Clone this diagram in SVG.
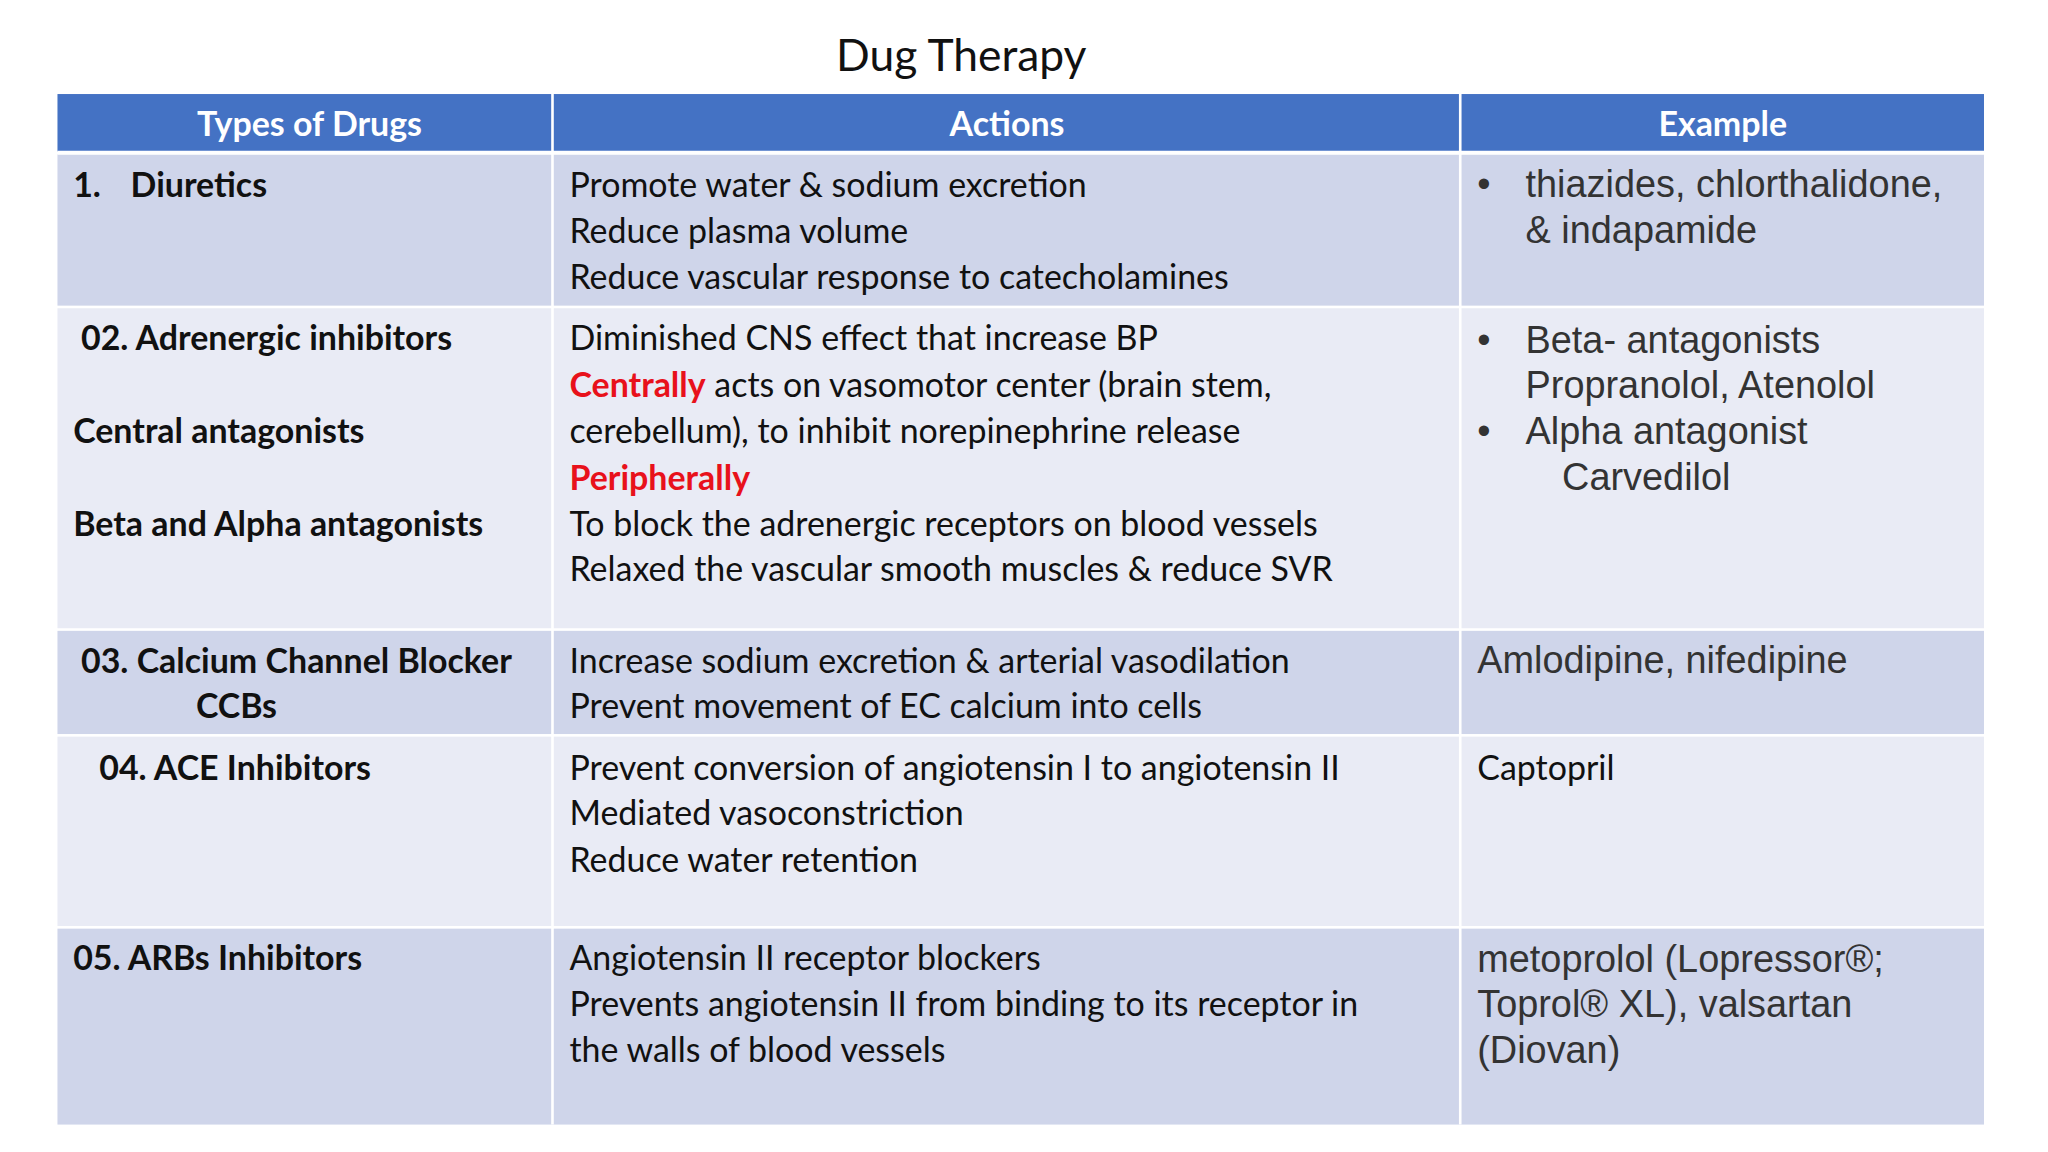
<svg xmlns="http://www.w3.org/2000/svg" width="2048" height="1152" viewBox="0 0 2048 1152">
<style>
.t{font-family:Lato,"Open Sans",sans-serif;font-size:26px;fill:#111}
.b{font-weight:bold}
.h{font-family:Lato,sans-serif;font-size:26px;font-weight:bold;fill:#fff}
.a{font-family:"Liberation Sans",Arial,sans-serif;font-size:29px;fill:#333}
.r{fill:#e8111b;font-weight:bold}
.o{fill:#cfd5ea}.e{fill:#e9ebf5}
</style>
<rect width="2048" height="1152" fill="#fff"/>
<g transform="scale(1.30612)">
<text x="736" y="54" text-anchor="middle" font-family="Lato,sans-serif" font-size="34" fill="#111">Dug Therapy</text>
<g id="header">
<rect x="44" y="72" width="1475" height="44" fill="#4472c4"/>
<text class="h" x="237" y="104" text-anchor="middle">Types of Drugs</text>
<text class="h" x="771" y="104" text-anchor="middle">Actions</text>
<text class="h" x="1319" y="104" text-anchor="middle">Example</text>
</g>
<g id="row1">
<rect class="o" x="44" y="118" width="1475" height="116"/>
<text class="t b" x="56" y="151">1.<tspan x="100">Diuretics</tspan></text>
<text class="t" x="436" y="151">Promote water &amp; sodium excretion</text>
<text class="t" x="436" y="186">Reduce plasma volume</text>
<text class="t" x="436" y="221">Reduce vascular response to catecholamines</text>
<text class="a" x="1131" y="151">•<tspan x="1168">thiazides, chlorthalidone,</tspan></text>
<text class="a" x="1168" y="186">&amp; indapamide</text>
</g>
<g id="row2">
<rect class="e" x="44" y="236" width="1475" height="245"/>
<text class="t b" x="62" y="268">02. Adrenergic inhibitors</text>
<text class="t b" x="56" y="339">Central antagonists</text>
<text class="t b" x="56" y="410">Beta and Alpha antagonists</text>
<text class="t" x="436" y="268">Diminished CNS effect that increase BP</text>
<text class="t" x="436" y="304"><tspan class="r">Centrally</tspan>  acts on vasomotor center (brain stem,</text>
<text class="t" x="436" y="339">cerebellum), to inhibit norepinephrine release</text>
<text class="t r" x="436" y="375">Peripherally</text>
<text class="t" x="436" y="410">To block the adrenergic receptors on blood vessels</text>
<text class="t" x="436" y="445">Relaxed the vascular smooth muscles &amp; reduce SVR</text>
<text class="a" x="1131" y="270">•<tspan x="1168">Beta- antagonists</tspan></text>
<text class="a" x="1168" y="305">Propranolol, Atenolol</text>
<text class="a" x="1131" y="340">•<tspan x="1168">Alpha antagonist</tspan></text>
<text class="a" x="1196" y="375">Carvedilol</text>
</g>
<g id="row3">
<rect class="o" x="44" y="483" width="1475" height="79"/>
<text class="t b" x="62" y="515">03. Calcium Channel Blocker</text>
<text class="t b" x="150" y="550">CCBs</text>
<text class="t" x="436" y="515">Increase sodium excretion  &amp; arterial vasodilation</text>
<text class="t" x="436" y="550">Prevent movement of EC calcium into cells</text>
<text class="a" x="1131" y="515" font-size="31">Amlodipine, nifedipine</text>
</g>
<g id="row4">
<rect class="e" x="44" y="564" width="1475" height="145"/>
<text class="t b" x="76" y="597">04. ACE Inhibitors</text>
<text class="t" x="436" y="597">Prevent conversion of angiotensin I to angiotensin II</text>
<text class="t" x="436" y="632">Mediated vasoconstriction</text>
<text class="t" x="436" y="668">Reduce water retention</text>
<text class="t" x="1131" y="597">Captopril</text>
</g>
<g id="row5">
<rect class="o" x="44" y="711" width="1475" height="150"/>
<text class="t b" x="56" y="743">05. ARBs Inhibitors</text>
<text class="t" x="436" y="743">Angiotensin II receptor blockers</text>
<text class="t" x="436" y="778">Prevents angiotensin II from binding to its receptor in</text>
<text class="t" x="436" y="813">the walls of blood vessels</text>
<text class="a" x="1131" y="744" font-size="31">metoprolol (Lopressor®;</text>
<text class="a" x="1131" y="779" font-size="31">Toprol® XL), valsartan</text>
<text class="a" x="1131" y="814" font-size="31">(Diovan)</text>
</g>
<g id="grid" stroke="#fff" stroke-width="2">
<line x1="423" y1="72" x2="423" y2="861"/>
<line x1="1118" y1="72" x2="1118" y2="861"/>
<line x1="44" y1="117" x2="1519" y2="117" stroke-width="3"/>
</g>
</g>
</svg>
